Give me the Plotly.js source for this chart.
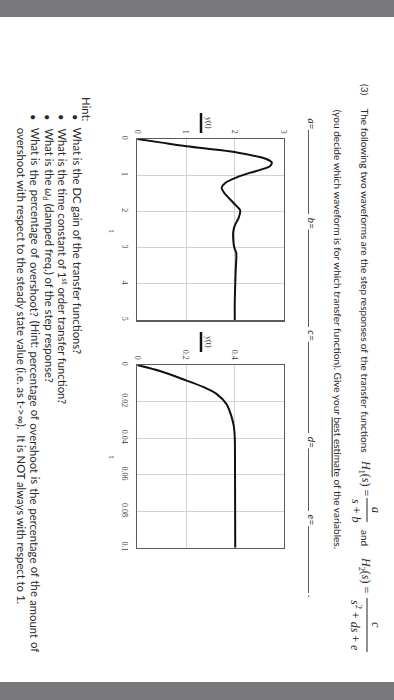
<!DOCTYPE html>
<html><head><meta charset="utf-8">
<script src="https://cdn.plot.ly/plotly-3.0.1.min.js"></script>
<style>html,body{margin:0;padding:0;background:#fff;overflow:hidden}#chart{width:394px;height:700px}</style>
</head><body><div id="chart"></div>
<script>
// ---- data ----
const tSecond = [0, 0.1, 0.2, 0.37, 0.48, 0.56, 0.65, 0.75, 0.84, 0.93, 1.06, 1.22, 1.34, 1.5, 1.76, 1.97, 2.18, 2.36, 2.55, 2.8, 3.0, 3.15, 3.6, 4.0, 4.5, 5.0];
const ySecond = [0, 0.5, 1.01, 2.04, 2.45, 2.66, 2.76, 2.72, 2.55, 2.32, 2.04, 1.80, 1.73, 1.79, 1.97, 2.11, 2.08, 2.01, 1.97, 1.97, 1.99, 2.03, 2.02, 2.01, 2.0, 2.0];
const tFirst = [0, 0.0033, 0.0084, 0.012, 0.0158, 0.0214, 0.028, 0.0335, 0.04, 0.055, 0.1];
const yFirst = [0, 0.093, 0.2, 0.27, 0.325, 0.366, 0.386, 0.396, 0.4, 0.401, 0.402];
const tTicks1 = [0, 1, 2, 3, 4, 5];
const yTicks1 = [0, 1, 2, 3];
const tTicks2 = [0, 0.02, 0.04, 0.06, 0.08, 0.1];
const tTickText2 = ['0', '0.02', '0.04', '0.06', '0.08', '0.1'];
const yTicks2 = [0, 0.2, 0.4];
const yTickText2 = ['0', '0.2', '0.4'];

const titleLine = 'The following two waveforms are the step responses of the transfer functions';
const line2 = '(you decide which waveform is for which transfer function). Give your <u>best estimate</u> of the variables.';
const blanks = ['a=', 'b=', 'c=', 'd=', 'e='];
const hintTitle = 'Hint:';
const hints = [
  'What is the DC gain of the transfer functions?',
  'What is the time constant of 1<sup>st</sup> order transfer function?',
  'What is the <i>ω</i><sub>d</sub> (damped freq.) of the step response?',
  'What is the percentage of overshoot? (Hint: percentage of overshoot is the percentage of the amount of',
  'overshoot with respect to the steady state value (i.e. as t->∞).  It is NOT always with respect to 1.'
];

// ---- helpers ----
const W = 394, H = 700;
const SANS = 'Lato, "Open Sans", sans-serif';
const SERIF = '"Liberation Serif", "DejaVu Serif", serif';
const TXT = '#2a2a2a';
const cv = document.createElement('canvas').getContext('2d');
function strip(s){ return s.replace(/<[^>]+>/g, ''); }
function textW(s, size, fam){ cv.font = size + 'px ' + fam; return cv.measureText(strip(s)).width; }
function ann(text, X, Y, size, fam, extra){
  return Object.assign({text: text, x: X / W, y: 1 - Y / H, xref: 'paper', yref: 'paper', showarrow: false,
    textangle: 90, xanchor: 'center', yanchor: 'middle', borderpad: 0,
    font: {size: size, family: fam, color: TXT}}, extra || {});
}
function annStart(text, X, Y0, size, fam){ return ann(text, X, Y0 + textW(text, size, fam) / 2, size, fam); }
function justify(text, X, Y0, Y1, size, fam){
  const words = text.split(/\s+/);
  const ws = words.map(w => textW(w, size, fam));
  const gap = (Y1 - Y0 - ws.reduce((a, b) => a + b, 0)) / (words.length - 1);
  let y = Y0; const out = [];
  words.forEach((w, i) => { out.push(ann(w, X, y + ws[i] / 2, size, fam)); y += ws[i] + gap; });
  return out;
}
function fitSize(text, span, fam){ return 10 * span / textW(text, 10, fam); }

const annotations = [];
const shapes = [];

// grey bars (phone frame)
shapes.push({type: 'rect', xref: 'paper', yref: 'paper', x0: 0, x1: 1, y0: 1 - 17 / H, y1: 1, fillcolor: '#79797d', line: {width: 0}, layer: 'above'});
shapes.push({type: 'rect', xref: 'paper', yref: 'paper', x0: 0, x1: 1, y0: 0, y1: 18 / H, fillcolor: '#79797d', line: {width: 0}, layer: 'above'});

// header text
const topSize = fitSize(strip(line2), 442, SANS);
annotations.push(ann('(3)', 365, 90, topSize, SANS));
annotations.push(...justify(titleLine, 365, 108, 452, topSize, SANS));
annotations.push(annStart(line2, 338, 108, topSize, SANS));
// formula
annotations.push(ann('<i>H</i><sub>1</sub>(<i>s</i>) =', 365, 478, 12, SERIF));
annotations.push(ann('<i>a</i>', 376, 510, 12, SERIF));
annotations.push(ann('<i>s</i> + <i>b</i>', 356, 510, 12, SERIF));
shapes.push({type: 'line', xref: 'paper', yref: 'paper', x0: 367 / W, x1: 367 / W, y0: 1 - 498 / H, y1: 1 - 522 / H, line: {color: '#222', width: 1}});
annotations.push(ann('and', 365, 538, topSize, SANS));
annotations.push(ann('<i>H</i><sub>2</sub>(<i>s</i>) =', 365, 575, 12, SERIF));
annotations.push(ann('<i>c</i>', 376, 625, 12, SERIF));
annotations.push(ann('<i>s</i><sup>2</sup> + <i>ds</i> + <i>e</i>', 356, 625, 12, SERIF));
shapes.push({type: 'line', xref: 'paper', yref: 'paper', x0: 367 / W, x1: 367 / W, y0: 1 - 598 / H, y1: 1 - 652 / H, line: {color: '#222', width: 1}});

// a= ... e= line
const blankStarts = [118, 217, 330, 436, 514];
const blankEnds = [214, 327, 433, 511, 593];
blanks.forEach((b, i) => {
  annotations.push(annStart('<i>' + b + '</i>', 312, blankStarts[i], topSize, SANS));
  const s0 = blankStarts[i] + textW(b, topSize, SANS) + 1;
  shapes.push({type: 'line', xref: 'paper', yref: 'paper', x0: 308.5 / W, x1: 308.5 / W, y0: 1 - s0 / H, y1: 1 - blankEnds[i] / H, line: {color: '#333', width: 0.8}});
});
annotations.push(ann('.', 312, 596, topSize, SANS));

// hints
const hintSize = fitSize(strip(hints[4]), 478, SANS);
annotations.push(annStart(hintTitle, 87, 97, hintSize, SANS));
const hintX = [77, 63, 49, 35, 21];
hints.forEach((h, i) => {
  if (i === 3) annotations.push(...justify(h, hintX[i], 127, 652, hintSize, SANS));
  else annotations.push(annStart(h, hintX[i], 127, hintSize, SANS));
  if (i < 4) annotations.push(ann('•', hintX[i] - 1, 117, hintSize, SANS));
});

// chart labels
annotations.push(ann('y(t)', 209, 123, 8, SERIF));
annotations.push(ann('y(t)', 209, 342, 8, SERIF));
annotations.push(ann('t', 112, 231, 9, SERIF));
annotations.push(ann('t', 112, 457, 9, SERIF));
shapes.push({type: 'line', xref: 'paper', yref: 'paper', x0: 201 / W, x1: 201 / W, y0: 1 - 113 / H, y1: 1 - 133 / H, line: {color: '#111', width: 2.5}});
shapes.push({type: 'line', xref: 'paper', yref: 'paper', x0: 201 / W, x1: 201 / W, y0: 1 - 332 / H, y1: 1 - 352 / H, line: {color: '#111', width: 2.5}});

// ---- traces ----
const traces = [
  {x: ySecond, y: tSecond, xaxis: 'x', yaxis: 'y', mode: 'lines', line: {color: '#111', width: 2, shape: 'spline', smoothing: 0.8}, hoverinfo: 'skip'},
  {x: yFirst, y: tFirst, xaxis: 'x2', yaxis: 'y2', mode: 'lines', line: {color: '#111', width: 2, shape: 'spline', smoothing: 0.8}, hoverinfo: 'skip'}
];

const common = {showgrid: true, gridcolor: '#d2d2d2', gridwidth: 1, showline: true, mirror: true, linecolor: '#5a5a5a', linewidth: 1.5,
  zeroline: false, ticks: '', tickangle: 90, tickfont: {family: SERIF, size: 8, color: '#444'}, fixedrange: true};
const xDom = [137.3 / W, 283.5 / W];
const layout = {
  width: W, height: H, margin: {l: 0, r: 0, t: 0, b: 0}, paper_bgcolor: '#fff', plot_bgcolor: '#fff', showlegend: false,
  xaxis: Object.assign({}, common, {domain: xDom, range: [0, 3], side: 'top', anchor: 'y', tickvals: yTicks1, ticktext: yTicks1.map(String), ticklabelstandoff: 1}),
  yaxis: Object.assign({}, common, {domain: [1 - 320 / H, 1 - 139 / H], range: [5, 0], anchor: 'x', tickvals: tTicks1, ticktext: tTicks1.map(String), ticklabelstandoff: 4}),
  xaxis2: Object.assign({}, common, {domain: xDom, range: [0, 0.6], side: 'top', anchor: 'y2', tickvals: yTicks2, ticktext: yTickText2, ticklabelstandoff: 1}),
  yaxis2: Object.assign({}, common, {domain: [1 - 547.7 / H, 1 - 365 / H], range: [0.1, 0], anchor: 'x2', tickvals: tTicks2, ticktext: tTickText2, ticklabelstandoff: 4}),
  annotations: annotations, shapes: shapes
};
Plotly.newPlot('chart', traces, layout, {staticPlot: true, displayModeBar: false});
</script></body></html>
